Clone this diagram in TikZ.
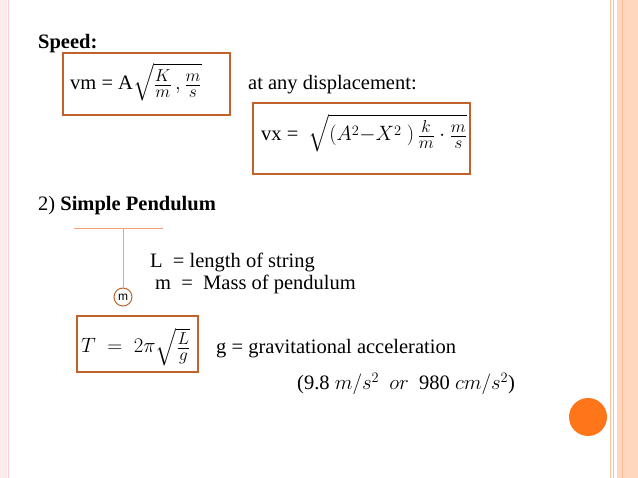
\documentclass[tikz,border=0pt]{standalone}
\usepackage{amsmath}
\usepackage{fontspec}
\setmainfont{Liberation Serif}
\newfontfamily\sansf{Liberation Sans}
\definecolor{boxc}{RGB}{192,98,43}
\definecolor{pend}{RGB}{245,160,110}
\newcommand\myfr[2]{\genfrac{}{}{0.5pt}{1}{\mbox{\fontsize{18}{18}\selectfont$#1$}}{\mbox{\fontsize{18}{18}\selectfont$#2$}}}
\begin{document}
\begin{tikzpicture}[x=1pt,y=-1pt,
  every node/.style={inner sep=0pt,anchor=base west,font=\fontsize{20.5}{24}\selectfont},
  fbox/.style={draw=boxc,line width=1.5pt}]
\useasboundingbox (0,0) rectangle (638,478);
\fill[red!8] (0,0) rectangle (7,478);
\draw[red!20,line width=1.5pt] (8.5,0) -- (8.5,478);
\fill[red!25!orange!25] (617,0) rectangle (638,478);
\draw[red!25!orange!40,line width=1pt] (610,0) -- (610,478);
\draw[red!25!orange!40,line width=1pt] (613,0) -- (613,478);
\draw[red!25!orange!40,line width=1pt] (622,0) -- (622,478);
\node (sp) at (38,49) {\textbf{Speed:}};
\draw[fbox] (63,53) rectangle (230,115);
\node (vm) at (70,90) {vm = A$\sqrt{\myfr{K}{m}\,,\myfr{m}{s}}$};
\node (ad) at (248,90) {at any displacement:};
\draw[fbox] (253,103) rectangle (470,174);
\node (vx) at (261,141) {vx = \ $\sqrt{(A^2{-}X^2\ )\,\myfr{k}{m}\cdot\myfr{m}{s}}$};
\node (sim) at (38,211) {2) \textbf{Simple Pendulum}};
\draw[pend,line width=1pt] (74,229) -- (163,229);
\node[circle,draw=boxc,line width=1pt,minimum size=18pt,anchor=center,font=\sansf\fontsize{12}{13}\selectfont] (mm) at (123,297) {m};
\draw[pend,line width=1pt] (123,229) -- (mm.north);
\node (L) at (150,268) {L\ \ = length of string};
\node (M) at (155,290) {m\ \ = \ Mass of pendulum};
\draw[fbox] (77,316) rectangle (198,372);
\node (T) at (81,353) {$T\;=\;2\pi\sqrt{\myfr{L}{g}}$};
\node (g) at (216,354) {g = gravitational acceleration};
\node (n) at (297,390) {(9.8 $m/s^2$ \ $or$ \ 980 $cm/s^2$)};
\fill[orange!80!red!90] (588,417) circle (19);
\end{tikzpicture}
\end{document}
